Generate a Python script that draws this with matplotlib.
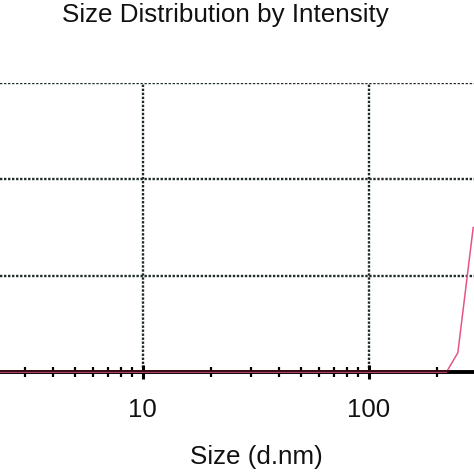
import numpy as np
import matplotlib.pyplot as plt
import matplotlib.transforms as mtrans
from matplotlib.ticker import LogLocator, NullFormatter, FixedLocator

plt.rcParams['font.family'] = ['Liberation Sans', 'DejaVu Sans']

# size (d.nm) vs intensity (percent)
size_nm = [2.3, 221, 248, 290]
intensity = [0.0, 0.0, 1.0, 7.5]
grid_y = [5, 10, 15]
tick_major = [10, 100]
title = "Size Distribution by Intensity"
xlabel = "Size (d.nm)"

fig = plt.figure(figsize=(4.74, 4.74), dpi=100)
# plot area runs past the picture on both sides (cropped figure)
ax = fig.add_axes([0.0, 0.2152, 1.0, 0.6097])
ax.set_xscale('log')
ax.set_xlim(10 ** (1 - 142.7 / 226), 10 ** (2 + (474 - 368.7) / 226))
ax.set_ylim(0, 15)

for sp in ['top', 'left', 'right']:
    ax.spines[sp].set_visible(False)
ax.spines['bottom'].set_linewidth(2.8)
ax.spines['bottom'].set_color('black')

ax.xaxis.set_major_locator(FixedLocator(tick_major))
ax.xaxis.set_minor_locator(LogLocator(base=10, subs=np.arange(2, 10)))
ax.xaxis.set_minor_formatter(NullFormatter())
ax.set_yticks(grid_y)
ax.tick_params(axis='y', left=False, labelleft=False)
ax.tick_params(axis='x', which='major', direction='inout', length=10, width=2.2,
               color='black', labelbottom=False)
ax.tick_params(axis='x', which='minor', direction='inout', length=7.5, width=1.6,
               color='black')

ax.grid(True, which='major', axis='both', color='#1f2b2b', linestyle=(0, (1, 0.7)),
        linewidth=1.7)

sz = np.array(size_nm)
it = np.array(intensity)
ax.plot(sz, it, color='#e4558c', linewidth=1.1, zorder=3, clip_on=False)
zero = it == 0
ax.plot(sz[zero], it[zero], color='#3d0c14', linewidth=2.8, zorder=4)

# tick labels, baseline placed in figure coordinates
tr = mtrans.blended_transform_factory(ax.transData, fig.transFigure)
for t in tick_major:
    ax.text(t, 0.1203, str(t), transform=tr, ha='center', va='baseline',
            fontsize=18.5, color='#111111', clip_on=False)

fig.text(0.4757, 0.9536, title, ha='center', va='baseline', fontsize=18.7, color='#111111')
fig.text(0.540, 0.0211, xlabel, ha='center', va='baseline', fontsize=18.7, color='#111111')

fig.savefig('out.png', dpi=100, facecolor='white')
